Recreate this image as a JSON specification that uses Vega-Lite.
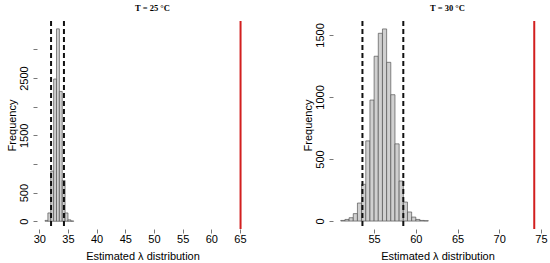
{
  "$schema": "https://vega.github.io/schema/vega-lite/v6.json",
  "padding": {"left": 6, "top": 3, "right": 0, "bottom": 0},
  "datasets": {
    "h25": [
      {"lo": 31.0, "hi": 31.5, "count": 15},
      {"lo": 31.5, "hi": 32.0, "count": 145},
      {"lo": 32.0, "hi": 32.5, "count": 876},
      {"lo": 32.5, "hi": 33.0, "count": 2482},
      {"lo": 33.0, "hi": 33.5, "count": 3358},
      {"lo": 33.5, "hi": 34.0, "count": 2266},
      {"lo": 34.0, "hi": 34.5, "count": 712},
      {"lo": 34.5, "hi": 35.0, "count": 145},
      {"lo": 35.0, "hi": 35.5, "count": 25},
      {"lo": 35.5, "hi": 36.0, "count": 5}
    ],
    "h30": [
      {"lo": 51.0, "hi": 51.5, "count": 5},
      {"lo": 51.5, "hi": 52.0, "count": 13},
      {"lo": 52.0, "hi": 52.5, "count": 27},
      {"lo": 52.5, "hi": 53.0, "count": 60},
      {"lo": 53.0, "hi": 53.5, "count": 145},
      {"lo": 53.5, "hi": 54.0, "count": 296},
      {"lo": 54.0, "hi": 54.5, "count": 646},
      {"lo": 54.5, "hi": 55.0, "count": 975},
      {"lo": 55.0, "hi": 55.5, "count": 1328},
      {"lo": 55.5, "hi": 56.0, "count": 1513},
      {"lo": 56.0, "hi": 56.5, "count": 1548},
      {"lo": 56.5, "hi": 57.0, "count": 1279},
      {"lo": 57.0, "hi": 57.5, "count": 1018},
      {"lo": 57.5, "hi": 58.0, "count": 622},
      {"lo": 58.0, "hi": 58.5, "count": 323},
      {"lo": 58.5, "hi": 59.0, "count": 153},
      {"lo": 59.0, "hi": 59.5, "count": 73},
      {"lo": 59.5, "hi": 60.0, "count": 32},
      {"lo": 60.0, "hi": 60.5, "count": 13},
      {"lo": 60.5, "hi": 61.0, "count": 5},
      {"lo": 61.0, "hi": 61.5, "count": 3}
    ],
    "ci25": [{"value": 32.05}, {"value": 34.3}],
    "ci30": [{"value": 53.6}, {"value": 58.5}],
    "obs25": [{"value": 65.1}],
    "obs30": [{"value": 74.2}]
  },
  "spacing": 54,
  "hconcat": [
    {
      "width": 211,
      "height": 208,
      "title": {"text": "T = 25 °C"},
      "layer": [
        {
          "data": {"name": "h25"},
          "mark": {"type": "rect", "fill": "#d0d0d0", "stroke": "#555555", "strokeWidth": 0.7},
          "encoding": {
            "x": {"field": "lo", "type": "quantitative",
                  "scale": {"domain": [29.6, 66.4], "nice": false, "zero": false},
                  "axis": {"values": [30, 35, 40, 45, 50, 55, 60, 65], "labelOverlap": false, "labelFlush": false, "title": "Estimated λ distribution"}},
            "x2": {"field": "hi"},
            "y": {"field": "count", "type": "quantitative",
                  "scale": {"domain": [-135, 3495], "nice": false, "zero": false},
                  "axis": {"values": [0, 500, 1000, 1500, 2000, 2500, 3000], "labelOverlap": false, "labelFlush": false,
                           "labelExpr": "(datum.value == 1000 || datum.value == 2000 || datum.value == 3000) ? '' : format(datum.value, 'd')",
                           "title": "Frequency"}},
            "y2": {"datum": 0}
          }
        },
        {
          "mark": {"type": "rule", "color": "#555555", "strokeWidth": 0.8},
          "encoding": {
            "x": {"datum": 30, "type": "quantitative",
                  "axis": {"values": [30, 35, 40, 45, 50, 55, 60, 65], "labelOverlap": false, "labelFlush": false, "title": "Estimated λ distribution"}},
            "x2": {"datum": 65},
            "y": {"datum": -135, "type": "quantitative",
                  "axis": {"values": [0, 500, 1000, 1500, 2000, 2500, 3000], "labelOverlap": false, "labelFlush": false,
                           "labelExpr": "(datum.value == 1000 || datum.value == 2000 || datum.value == 3000) ? '' : format(datum.value, 'd')",
                           "title": "Frequency"}}
          }
        },
        {
          "mark": {"type": "rule", "color": "#555555", "strokeWidth": 0.8},
          "encoding": {
            "x": {"datum": 29.6, "type": "quantitative",
                  "axis": {"values": [30, 35, 40, 45, 50, 55, 60, 65], "labelOverlap": false, "labelFlush": false, "title": "Estimated λ distribution"}},
            "y": {"datum": 0, "type": "quantitative",
                  "axis": {"values": [0, 500, 1000, 1500, 2000, 2500, 3000], "labelOverlap": false, "labelFlush": false,
                           "labelExpr": "(datum.value == 1000 || datum.value == 2000 || datum.value == 3000) ? '' : format(datum.value, 'd')",
                           "title": "Frequency"}},
            "y2": {"datum": 3000}
          }
        },
        {
          "data": {"name": "ci25"},
          "mark": {"type": "rule", "color": "#111111", "strokeWidth": 2, "strokeDash": [5, 3]},
          "encoding": {"x": {"field": "value", "type": "quantitative",
                  "axis": {"values": [30, 35, 40, 45, 50, 55, 60, 65], "labelOverlap": false, "labelFlush": false, "title": "Estimated λ distribution"}}}
        },
        {
          "data": {"name": "obs25"},
          "mark": {"type": "rule", "color": "#d21f1f", "strokeWidth": 2},
          "encoding": {"x": {"field": "value", "type": "quantitative",
                  "axis": {"values": [30, 35, 40, 45, 50, 55, 60, 65], "labelOverlap": false, "labelFlush": false, "title": "Estimated λ distribution"}}}
        }
      ]
    },
    {
      "width": 209,
      "height": 208,
      "title": {"text": "T = 30 °C"},
      "layer": [
        {
          "data": {"name": "h30"},
          "mark": {"type": "rect", "fill": "#d0d0d0", "stroke": "#555555", "strokeWidth": 0.7},
          "encoding": {
            "x": {"field": "lo", "type": "quantitative",
                  "scale": {"domain": [50.07, 75.13], "nice": false, "zero": false},
                  "axis": {"values": [55, 60, 65, 70, 75], "labelOverlap": false, "labelFlush": false, "title": "Estimated λ distribution"}},
            "x2": {"field": "hi"},
            "y": {"field": "count", "type": "quantitative",
                  "scale": {"domain": [-64, 1612], "nice": false, "zero": false},
                  "axis": {"values": [0, 500, 1000, 1500], "labelOverlap": false, "labelFlush": false, "format": "d", "title": "Frequency"}},
            "y2": {"datum": 0}
          }
        },
        {
          "mark": {"type": "rule", "color": "#555555", "strokeWidth": 0.8},
          "encoding": {
            "x": {"datum": 55, "type": "quantitative",
                  "axis": {"values": [55, 60, 65, 70, 75], "labelOverlap": false, "labelFlush": false, "title": "Estimated λ distribution"}},
            "x2": {"datum": 75},
            "y": {"datum": -64, "type": "quantitative",
                  "axis": {"values": [0, 500, 1000, 1500], "labelOverlap": false, "labelFlush": false, "format": "d", "title": "Frequency"}}
          }
        },
        {
          "mark": {"type": "rule", "color": "#555555", "strokeWidth": 0.8},
          "encoding": {
            "x": {"datum": 50.07, "type": "quantitative",
                  "axis": {"values": [55, 60, 65, 70, 75], "labelOverlap": false, "labelFlush": false, "title": "Estimated λ distribution"}},
            "y": {"datum": 0, "type": "quantitative",
                  "axis": {"values": [0, 500, 1000, 1500], "labelOverlap": false, "labelFlush": false, "format": "d", "title": "Frequency"}},
            "y2": {"datum": 1500}
          }
        },
        {
          "data": {"name": "ci30"},
          "mark": {"type": "rule", "color": "#111111", "strokeWidth": 2, "strokeDash": [5, 3]},
          "encoding": {"x": {"field": "value", "type": "quantitative",
                  "axis": {"values": [55, 60, 65, 70, 75], "labelOverlap": false, "labelFlush": false, "title": "Estimated λ distribution"}}}
        },
        {
          "data": {"name": "obs30"},
          "mark": {"type": "rule", "color": "#d21f1f", "strokeWidth": 2},
          "encoding": {"x": {"field": "value", "type": "quantitative",
                  "axis": {"values": [55, 60, 65, 70, 75], "labelOverlap": false, "labelFlush": false, "title": "Estimated λ distribution"}}}
        }
      ]
    }
  ],
  "config": {
    "view": {"stroke": null},
    "font": "Liberation Sans",
    "title": {"font": "Liberation Serif", "fontSize": 8.5, "fontWeight": "bold", "color": "#000000", "anchor": "middle", "dx": 10, "offset": 8},
    "axis": {
      "domain": false,
      "grid": false,
      "ticks": true,
      "tickSize": 4,
      "tickColor": "#555555",
      "tickWidth": 0.8,
      "labelFont": "Liberation Sans",
      "labelFontSize": 11,
      "labelColor": "#000000",
      "titleFont": "Liberation Sans",
      "titleFontSize": 11,
      "titleFontWeight": "normal",
      "titleColor": "#000000"
    },
    "axisX": {"labelPadding": 0, "titlePadding": 6},
    "axisY": {"labelAngle": -90, "labelPadding": 4, "titlePadding": 1}
  }
}
